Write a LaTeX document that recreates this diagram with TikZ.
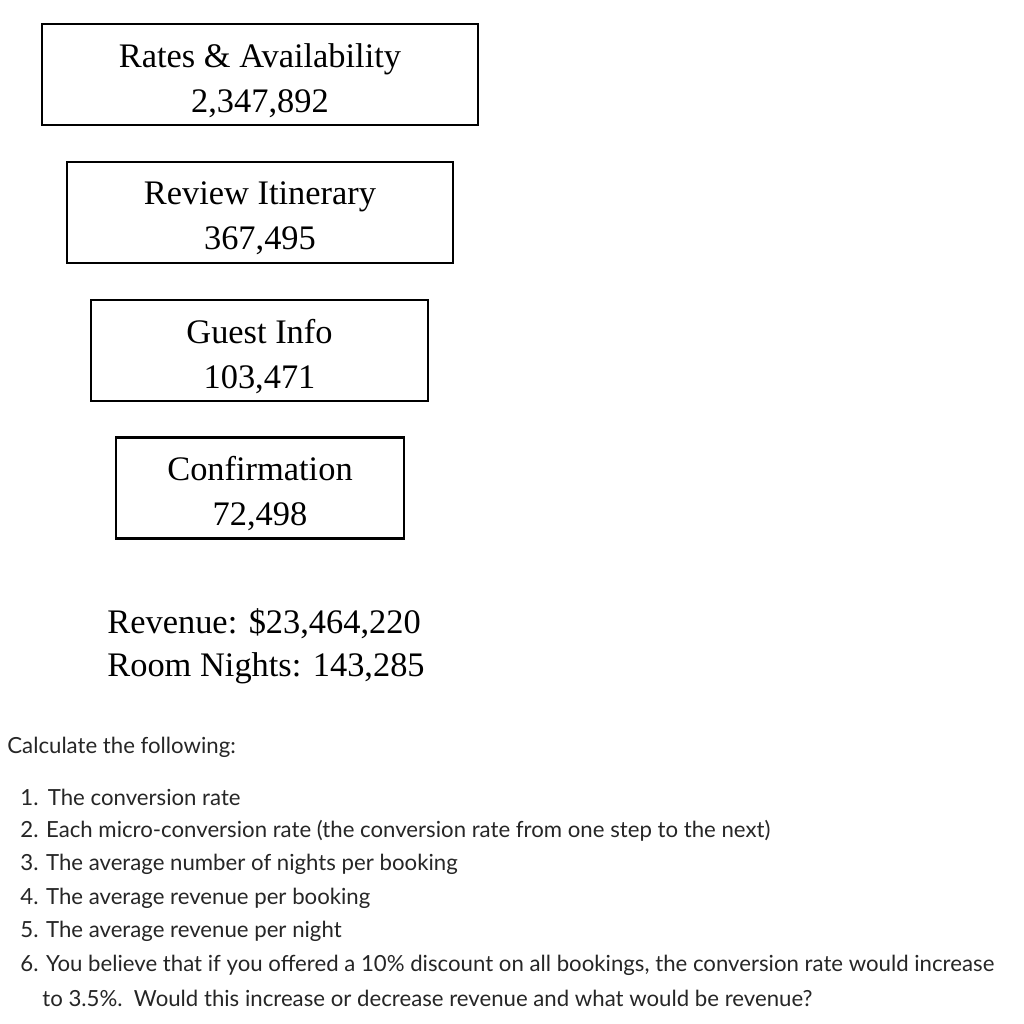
\documentclass[tikz,border=0pt]{standalone}
\usepackage{fontspec}
\setmainfont{Liberation Serif}
\newfontfamily\listfont{Lato}
\usetikzlibrary{positioning}

\begin{document}
\begin{tikzpicture}[x=0.5pt,y=-0.5pt,line join=miter,
  stepbox/.style={draw=black,line width=1.4pt,rectangle,
    minimum height=50.5pt,inner sep=0pt},
  steptext/.style={align=center,inner sep=0pt,
    font=\fontsize{17.2}{22.5}\selectfont},
  totals/.style={anchor=west,align=left,inner sep=0pt,
    font=\fontsize{17.2}{21.5}\selectfont},
  task/.style={anchor=west,inner sep=0pt,font=\listfont\fontsize{11.1}{16.75}\selectfont,text=black!85}]
\path[use as bounding box] (0,0) rectangle (1024,1024);
\fill[white] (0,0) rectangle (1024,1024);
% funnel steps
\node[stepbox,minimum width=218pt] (rates) at (260,74.5) {};
\node[stepbox,minimum width=193pt] (review) at (260,212.5) {};
\node[stepbox,minimum width=168.5pt] (guest) at (259.5,350.5) {};
\node[stepbox,minimum width=144pt] (confirm) at (260,488) {};
\node[steptext] (ratestext) at ([yshift=-3pt]rates.center) {Rates \& Availability\\2,347,892};
\node[steptext] (reviewtext) at ([yshift=-3pt]review.center) {Review Itinerary\\367,495};
\node[steptext] (guesttext) at ([yshift=-3pt]guest.center) {Guest Info\\103,471};
\node[steptext] (confirmtext) at ([yshift=-3pt]confirm.center) {Confirmation\\72,498};
% totals
\node[totals] (totals) at (107,646.5) {Revenue: \$23,464,220\\Room Nights: 143,285};
% questions
\node[task] (intro) at (7,747) {Calculate the following:};
\node[task] (q1) at (20,797) {1.\ \,The conversion rate};
\node[task] (q2) at (20,831) {2. Each micro-conversion rate (the conversion rate from one step to the next)};
\node[task] (q3) at (20,864) {3. The average number of nights per booking};
\node[task] (q4) at (20,898) {4. The average revenue per booking};
\node[task] (q5) at (20,931) {5. The average revenue per night};
\node[task] (q6) at (20,965) {6. You believe that if you offered a 10\% discount on all bookings, the conversion rate would increase};
\node[task] (q6b) at (42,998) {to 3.5\%.\ \ Would this increase or decrease revenue and what would be revenue?};
\end{tikzpicture}
\end{document}
